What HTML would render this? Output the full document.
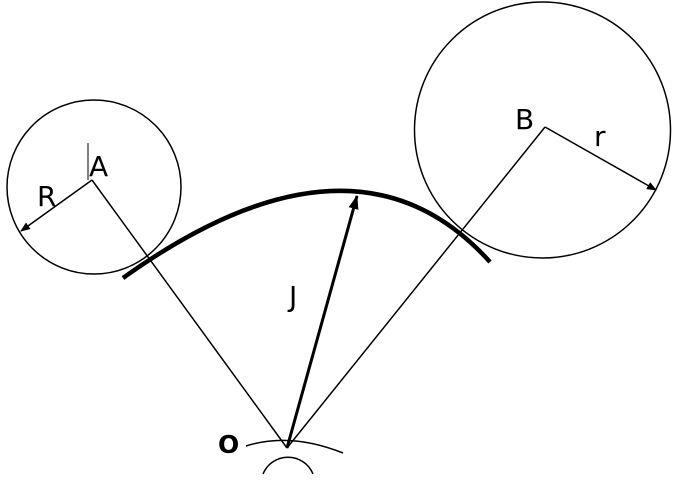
<!DOCTYPE html>
<html><head><style>body{margin:0;background:#fff}svg{display:block}</style></head>
<body>
<svg width="682" height="485" viewBox="0 0 682 485" xmlns="http://www.w3.org/2000/svg" font-family="'DejaVu Sans','Liberation Sans',sans-serif">
<defs>
<marker id="ah" markerWidth="10" markerHeight="8" refX="9" refY="4" orient="auto" markerUnits="userSpaceOnUse">
<path d="M0,0 L10,4 L0,8 z" fill="#000"/></marker>
<marker id="ah2" markerWidth="14" markerHeight="10" refX="13" refY="5" orient="auto" markerUnits="userSpaceOnUse">
<path d="M0,0 L14,5 L0,10 z" fill="#000"/></marker>
</defs>
<g fill="none" stroke="#000">
<circle cx="94" cy="187" r="87" stroke-width="1.5"/>
<circle cx="542.5" cy="130" r="128" stroke-width="1.5"/>
<line x1="88" y1="143" x2="88" y2="180" stroke-width="1"/>
<line x1="92" y1="180" x2="287" y2="448" stroke-width="1.5"/>
<line x1="545" y1="127" x2="287" y2="448" stroke-width="1.5"/>
<line x1="92" y1="180" x2="21" y2="231" stroke-width="1.5" marker-end="url(#ah)"/>
<line x1="545" y1="127" x2="656" y2="190" stroke-width="1.5" marker-end="url(#ah)"/>
<path d="M123,278 Q355,112 490,262" stroke-width="4.5"/>
<line x1="287" y1="448" x2="357" y2="196" stroke-width="3" marker-end="url(#ah2)"/>
<path d="M246,446 Q290,432 343,453" stroke-width="1.5"/>
<path d="M263,474 A27,27 0 0 1 313,474" stroke-width="1.5"/>
</g>
<g font-size="28" fill="#000">
<text x="89" y="176">A</text>
<text x="37" y="206">R</text>
<text x="515" y="129">B</text>
<text x="594" y="146">r</text>
<text x="289" y="306">J</text>
<text x="218" y="453" font-weight="bold" font-size="25">O</text>
</g>
</svg>
</body></html>
